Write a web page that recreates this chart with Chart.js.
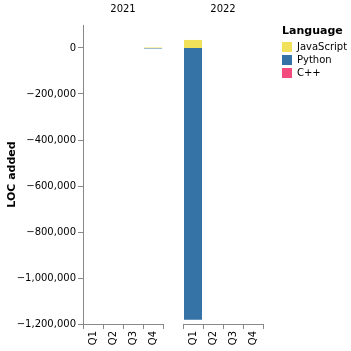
<!DOCTYPE html>
<html>
<head>
<meta charset="utf-8">
<script src="https://cdn.jsdelivr.net/npm/chart.js@4"></script>
<style>
  html, body { margin: 0; padding: 0; background: #fff; }
  #wrap { position: relative; width: 351px; height: 351px; font-family: 'DejaVu Sans', sans-serif; color: #000; }
  canvas { position: absolute; top: 0; }
  .facet { position: absolute; top: 3px; font-size: 10px; width: 60px; text-align: center; }
  .legend { position: absolute; left: 282px; top: 24px; }
  .legend .title { font-weight: bold; font-size: 11px; margin-bottom: 3px; }
  .legend .item { display: flex; align-items: center; height: 13px; font-size: 10px; }
  .legend .sw { width: 10px; height: 10px; margin-right: 5px; }
</style>
</head>
<body>
<div id="wrap">
  <canvas id="left" width="170" height="351" style="left:0;width:170px;height:351px"></canvas>
  <canvas id="right" width="100" height="351" style="left:170px;width:100px;height:351px"></canvas>
  <div class="facet" style="left:93px">2021</div>
  <div class="facet" style="left:193px">2022</div>
  <div class="legend" id="legend"><div class="title">Language</div></div>
</div>
<script>
const quarters = ['Q1', 'Q2', 'Q3', 'Q4'];
const languages = ['JavaScript', 'Python', 'C++'];
const langColors = ['#f1e05a', '#3572a5', '#f34b7d'];

// LOC added per quarter, one array per language and year
const js2021 = [0, 0, 0, 150];
const py2021 = [0, 0, 0, -100];
const cpp2021 = [0, 0, 0, 0];
const js2022 = [35000, 0, 0, 0];
const py2022 = [-1182000, 0, 0, 0];
const cpp2022 = [0, 0, 0, 0];

const yMin = -1200000;
const yMax = 100000;
const yTicks = [-1200000, -1000000, -800000, -600000, -400000, -200000, 0];

const axisColor = '#888';
const tickFont = { family: 'DejaVu Sans', size: 10 };

function makeDatasets(series) {
    return series.map((data, i) => ({
        label: languages[i],
        data: data,
        backgroundColor: langColors[i],
        borderWidth: 0,
        barPercentage: 0.9,
        categoryPercentage: 1
    }));
}

function xScale() {
    return {
        stacked: true,
        grid: { drawOnChartArea: false, drawTicks: true, tickLength: 5, color: axisColor },
        border: { display: true, color: axisColor },
        ticks: {
            color: '#000', font: tickFont, padding: 2,
            minRotation: 90, maxRotation: 90, autoSkip: false
        },
        afterFit: (scale) => { scale.height = 27; }
    };
}

function yScale(showAxis) {
    const y = {
        display: showAxis,
        stacked: true,
        min: yMin,
        max: yMax,
        grid: { drawOnChartArea: false, drawTicks: true, tickLength: 5, color: axisColor },
        border: { display: true, color: axisColor },
        ticks: {
            color: '#000',
            font: tickFont,
            padding: 2,
            callback: (v) => v < 0 ? '\u2212' + Math.abs(v).toLocaleString('en-US') : v.toLocaleString('en-US')
        },
        afterBuildTicks: (scale) => {
            scale.ticks = yTicks.map(v => ({ value: v }));
        },
        title: {
            display: true,
            text: 'LOC added',
            color: '#000',
            font: { family: 'DejaVu Sans', size: 11, weight: 'bold' },
            padding: { top: 6, bottom: 0 }
        }
    };
    if (showAxis) {
        y.afterFit = (scale) => { scale.width = 83; };
    }
    return y;
}

function renderFacet(canvasId, series, showAxis) {
    const ctx = document.getElementById(canvasId);
    if (!ctx) return;

    ctx.chart = new Chart(ctx, {
        type: 'bar',
        data: {
            labels: quarters,
            datasets: makeDatasets(series)
        },
        options: {
            responsive: false,
            animation: false,
            layout: {
                padding: showAxis ? { top: 25, right: 7, bottom: 0, left: 0 } : { top: 25, right: 7, bottom: 0, left: 13 }
            },
            plugins: {
                legend: { display: false },
                tooltip: { enabled: false }
            },
            scales: {
                x: xScale(),
                y: yScale(showAxis)
            }
        }
    });
}

renderFacet('left', [js2021, py2021, cpp2021], true);
renderFacet('right', [js2022, py2022, cpp2022], false);

const legend = document.getElementById('legend');
languages.forEach((name, i) => {
    const item = document.createElement('div');
    item.className = 'item';
    item.innerHTML = '<span class="sw" style="background:' + langColors[i] + '"></span><span>' + name + '</span>';
    legend.appendChild(item);
});
</script>
</body>
</html>
